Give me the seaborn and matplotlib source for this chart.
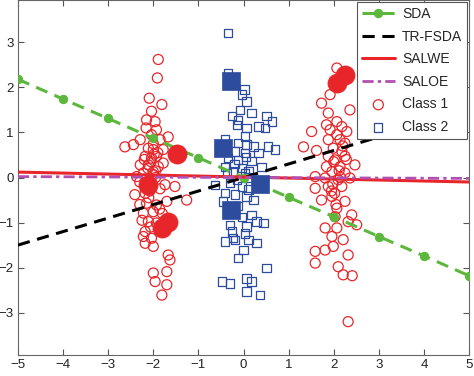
import numpy as np
import pandas as pd
import matplotlib
matplotlib.use("Agg")
import matplotlib.pyplot as plt
import seaborn as sns

# ---- data ----
line_x = [-5, -4, -3, -2, -1, 0, 1, 2, 3, 4, 5]
sda_y = [2.18, 1.74, 1.31, 0.87, 0.44, 0.0, -0.44, -0.87, -1.31, -1.74, -2.18]
trfsda_x = [-5, 5]
trfsda_y = [-1.5, 1.5]
salwe_x = [-5, 5]
salwe_y = [0.12, -0.10]
saloe_x = [-5, 5]
saloe_y = [0.02, -0.02]

class1_x = [
    -1.89, -1.91, -2.09, -1.81, -2.04, -2.15, -1.96, -2.16, -1.93, -2.04, -1.67, -2.29, -1.85,
    -2.63, -2.44, -2.11, -2.00, -1.78, -2.18, -2.04, -1.93, -2.29, -2.11, -1.89, -1.78, -2.00,
    -2.22, -2.37, -2.00, -1.74, -1.52, -2.41, -2.18, -1.26, -2.15, -1.93, -1.70, -2.22, -2.00,
    -2.11, -1.93, -2.18, -2.22, -2.04, -2.18, -2.00, -1.67, -1.63, -1.70, -2.00, -1.96, -1.70,
    -1.81, -2.05, -1.95, -2.30, -1.85, -2.10, -1.80, -2.30, -2.00, -1.90, -2.12, -2.25,
    -1.98, -2.08, -1.86, -2.20, -1.95, -2.06,
    2.07, 1.92, 1.73, 1.88, 2.36, 2.07, 1.84, 1.92, 2.18, 1.51, 2.07, 2.29, 1.88, 2.14, 2.25,
    1.33, 1.62, 1.99, 2.18, 1.88, 2.25, 2.03, 2.47, 1.84, 2.14, 1.96, 2.25, 1.59, 1.81, 2.10,
    2.36, 1.59, 1.88, 2.18, 1.73, 1.96, 2.25, 2.07, 2.03, 2.40, 2.32, 2.51, 1.81, 2.07, 1.96,
    2.21, 1.99, 1.59, 1.81, 2.32, 1.59, 2.10, 2.21, 2.41, 2.32, 2.00, 2.20, 1.95, 2.15, 2.05,
    2.12, 1.98, 2.28, 2.02,
]
class1_y = [
    2.62, 2.21, 1.76, 1.62, 1.47, 1.28, 1.24, 1.10, 1.06, 0.95, 0.90, 0.84, 0.84,
    0.68, 0.73, 0.65, 0.62, 0.62, 0.47, 0.43, 0.47, 0.28, 0.28, 0.24, 0.32, 0.13,
    0.10, 0.02, 0.06, -0.16, -0.20, -0.38, -0.35, -0.50, -0.57, -0.61, -0.53, -0.79, -0.76,
    -0.98, -1.01, -1.20, -1.31, -1.35, -1.46, -1.53, -1.72, -1.83, -2.09, -2.12, -2.31, -2.38,
    -2.61, 0.35, 0.00, -0.10, -0.25, -0.45, -0.80, -0.60, 0.75, 0.55, 0.20, -0.95,
    0.52, -0.30, -0.70, 0.40, 0.15, -1.10,
    2.43, 1.84, 1.65, 1.43, 1.50, 1.24, 1.17, 1.06, 1.13, 1.02, 0.95, 1.02, 0.84, 0.84, 0.76,
    0.68, 0.60, 0.65, 0.58, 0.47, 0.47, 0.39, 0.28, 0.24, 0.24, 0.13, 0.10, 0.02, -0.01, -0.05,
    -0.01, -0.24, -0.20, -0.20, -0.50, -0.42, -0.53, -0.68, -0.87, -0.83, -0.98, -1.05, -1.12, -1.12, -1.31,
    -1.38, -1.53, -1.64, -1.61, -1.72, -1.90, -1.98, -2.16, -2.18, -3.20, 0.35, 0.70, -0.30, 0.00, -0.60,
    0.15, -0.15, 0.40, -0.35,
]

class2_x = [
    -0.34, 0.02, -0.04, 0.07, -0.08, 0.18, -0.26, -0.12, 0.51, 0.63, -0.15, 0.07, 0.33,
    0.48, 0.03, -0.41, -0.12, 0.07, 0.22, 0.55, 0.70, -0.19, 0.03, 0.33, -0.34, -0.12,
    0.18, -0.41, -0.04, 0.40, -0.23, 0.11, -0.37, 0.03, -0.63, -0.30, -0.04, 0.11, -0.41,
    -0.19, 0.07, 0.22, -0.45, -0.12, 0.18, -0.04, 0.29, 0.44, -0.30, 0.07, -0.26, 0.03,
    -0.23, 0.11, -0.41, -0.19, 0.29, 0.00, -0.12, 0.51, -0.48, -0.30, 0.07, 0.18, 0.07, 0.37,
    -0.34, -0.20, 0.10, -0.15, 0.05,
]
class2_y = [
    3.21, 1.95, 1.84, 1.69, 1.50, 1.43, 1.36, 1.28, 1.36, 1.24, 1.17, 1.10, 1.13,
    1.10, 0.91, 0.84, 0.76, 0.73, 0.69, 0.69, 0.62, 0.58, 0.54, 0.54, 0.43, 0.39,
    0.36, 0.24, 0.21, 0.24, 0.13, 0.13, 0.10, 0.10, -0.16, -0.12, -0.20, -0.27, -0.35,
    -0.38, -0.42, -0.50, -0.53, -0.64, -0.83, -0.87, -0.98, -1.01, -1.05, -1.09, -1.20, -1.24,
    -1.35, -1.38, -1.42, -1.38, -1.46, -1.61, -1.79, -2.01, -2.31, -2.35, -2.24, -2.31, -2.53, -2.61,
    2.32, 0.30, 0.00, -0.05, 0.45,
]

big1_x = [-1.48, -2.11, -1.67, -1.81, 2.07, 2.25]
big1_y = [0.52, -0.16, -0.98, -1.12, 2.10, 2.28]
big2_x = [-0.28, -0.45, 0.37, -0.28]
big2_y = [2.15, 0.65, -0.15, -0.73]

# ---- styling ----
sns.set_style("white")
plt.rcParams["font.family"] = ["Liberation Sans", "DejaVu Sans"]

RED = "#e8262a"
BLUE = "#2e4c9e"
GREEN = "#5cb83c"
MAGENTA = "#b24fb2"

fig = plt.figure(figsize=(4.74, 3.76), dpi=100)
ax = fig.add_axes([18 / 474, 21 / 376, (469 - 18) / 474, 355 / 376])

c1 = pd.DataFrame({"x": class1_x, "y": class1_y})
c2 = pd.DataFrame({"x": class2_x, "y": class2_y})

sns.scatterplot(data=c1, x="x", y="y", ax=ax, marker="o", s=52,
                facecolor="none", edgecolor=RED, linewidth=0.9, zorder=2)
sns.scatterplot(data=c2, x="x", y="y", ax=ax, marker="s", s=36,
                facecolor="none", edgecolor=BLUE, linewidth=0.9, zorder=2)

sns.lineplot(x=line_x, y=sda_y, ax=ax, color=GREEN, linestyle=(0, (4, 2.5)),
             lw=2.2, marker="o", markersize=6, markeredgecolor=GREEN,
             label="SDA", zorder=3)
sns.lineplot(x=trfsda_x, y=trfsda_y, ax=ax, color="black", linestyle=(0, (4, 2.5)),
             lw=2.2, label="TR-FSDA", zorder=3)
sns.lineplot(x=salwe_x, y=salwe_y, ax=ax, color=RED, lw=2.2, label="SALWE", zorder=3)
sns.lineplot(x=saloe_x, y=saloe_y, ax=ax, color=MAGENTA, lw=2.0,
             linestyle=(0, (4, 1.5, 1.2, 1.5)), label="SALOE", zorder=3)

# legend entries for the classes
ax.scatter([], [], marker="o", s=52, facecolor="none", edgecolor=RED, linewidth=0.9, label="Class 1")
ax.scatter([], [], marker="s", s=36, facecolor="none", edgecolor=BLUE, linewidth=0.9, label="Class 2")

sns.scatterplot(x=big1_x, y=big1_y, ax=ax, marker="o", s=190, color=RED,
                edgecolor=RED, linewidth=0.5, zorder=4)
sns.scatterplot(x=big2_x, y=big2_y, ax=ax, marker="s", s=170, color=BLUE,
                edgecolor=BLUE, linewidth=0.5, zorder=4)

ax.set_xlim(-5, 5)
ax.set_ylim(-3.94, 3.94)
ax.set_xticks(range(-5, 6))
ax.set_yticks(range(-3, 4))
ax.set_xlabel("")
ax.set_ylabel("")
ax.tick_params(direction="in", length=4, width=0.8, colors="#555555",
               labelcolor="#222222", labelsize=9.5, top=True, right=True,
               bottom=True, left=True, pad=3)
for sp in ax.spines.values():
    sp.set_color("#666666")
    sp.set_linewidth(0.8)

handles, labels = ax.get_legend_handles_labels()
order = ["SDA", "TR-FSDA", "SALWE", "SALOE", "Class 1", "Class 2"]
hmap = dict(zip(labels, handles))
leg = ax.legend([hmap[k] for k in order], order, loc="upper right",
                fontsize=10, frameon=True, fancybox=False, framealpha=1,
                edgecolor="#555555", borderaxespad=0.15, handlelength=2.4,
                labelspacing=0.62, borderpad=0.35, handletextpad=0.5)
leg.get_frame().set_linewidth(0.8)

fig.savefig("out.png", dpi=100)
